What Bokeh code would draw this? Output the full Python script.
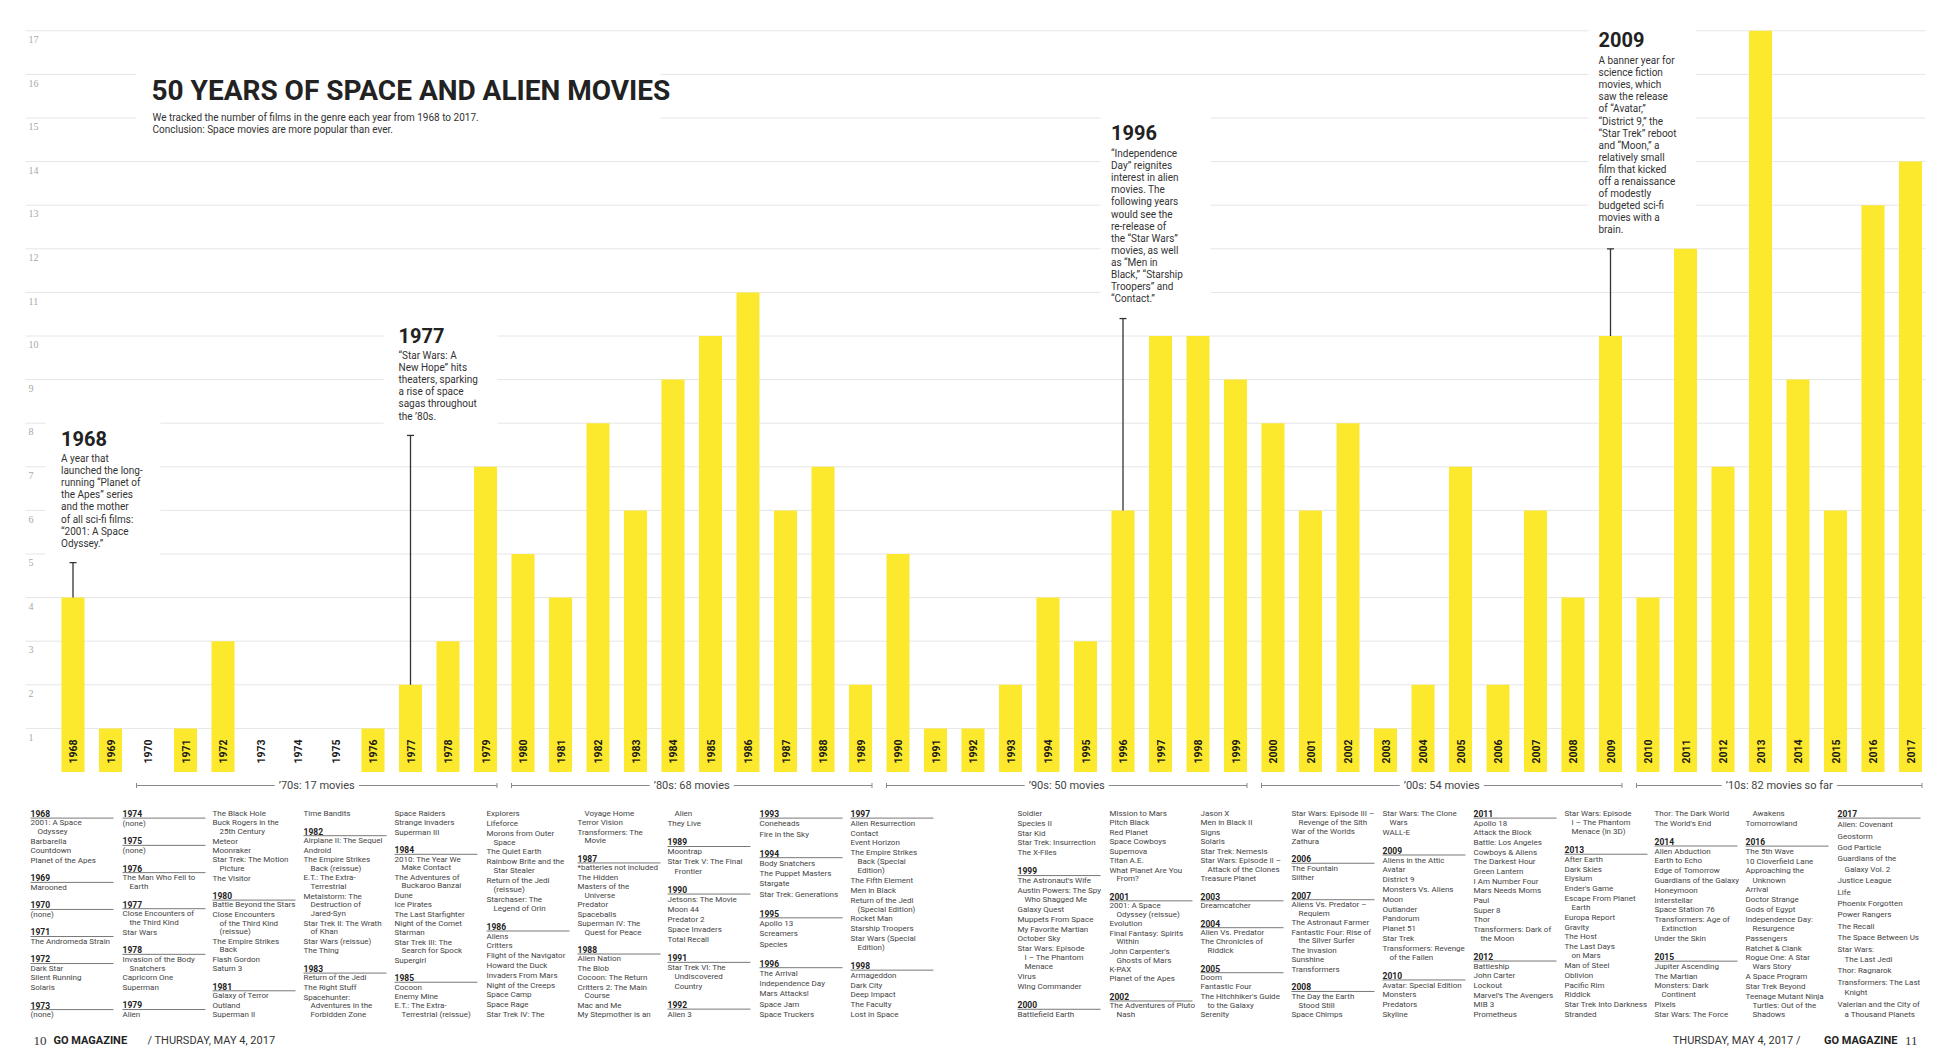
import math
from bokeh.plotting import figure
from bokeh.models import Range1d, Label
from bokeh.core.properties import value
from bokeh.embed import file_html
from bokeh.resources import INLINE

# ---------------- data ----------------
YEARS = list(range(1968, 2018))
COUNTS = [4, 1, 0, 1, 3, 0, 0, 0, 1, 2,
          3, 7, 5, 4, 8, 6, 9, 10, 11, 6,
          7, 2, 5, 1, 1, 2, 4, 3, 6, 10,
          10, 9, 8, 6, 8, 1, 2, 7, 2, 6,
          4, 10, 4, 12, 7, 17, 9, 6, 13, 14]
TICKS = list(range(1, 18))

DECADE_LABELS = ["\u201970s: 17 movies", "\u201980s: 68 movies", "\u201990s: 50 movies",
                 "\u201900s: 54 movies", "\u201910s: 82 movies so far"]
DECADE_START = [1970, 1980, 1990, 2000, 2010]
DECADE_END = [1979, 1989, 1999, 2009, 2017]

TITLE = "50 YEARS OF SPACE AND ALIEN MOVIES"
SUBTITLE = ["We tracked the number of films in the genre each year from 1968 to 2017.",
            "Conclusion: Space movies are more popular than ever."]

NOTE_YEARS = [1968, 1977, 1996, 2009]
NOTE_CAP = [4.8, 7.72, 10.4, 12.0]
NOTE_TEXT = [
    ["A year that", "launched the long-", "running \u201cPlanet of", "the Apes\u201d series",
     "and the mother", "of all sci-fi films:", "\u201c2001: A Space", "Odyssey.\u201d"],
    ["\u201cStar Wars: A", "New Hope\u201d hits", "theaters, sparking", "a rise of space",
     "sagas throughout", "the \u201980s."],
    ["\u201cIndependence", "Day\u201d reignites", "interest in alien", "movies. The",
     "following years", "would see the", "re-release of", "the \u201cStar Wars\u201d",
     "movies, as well", "as \u201cMen in", "Black,\u201d \u201cStarship", "Troopers\u201d and",
     "\u201cContact.\u201d"],
    ["A banner year for", "science fiction", "movies, which", "saw the release",
     "of \u201cAvatar,\u201d", "\u201cDistrict 9,\u201d the", "\u201cStar Trek\u201d reboot",
     "and \u201cMoon,\u201d a", "relatively small", "film that kicked", "off a renaissance",
     "of modestly", "budgeted sci-fi", "movies with a", "brain."],
]

FILMS = {
    1968: ["2001: A Space\nOdyssey", "Barbarella", "Countdown", "Planet of the Apes"],
    1969: ["Marooned"],
    1970: ["(none)"],
    1971: ["The Andromeda Strain"],
    1972: ["Dark Star", "Silent Running", "Solaris"],
    1973: ["(none)"],
    1974: ["(none)"],
    1975: ["(none)"],
    1976: ["The Man Who Fell to\nEarth"],
    1977: ["Close Encounters of\nthe Third Kind", "Star Wars"],
    1978: ["Invasion of the Body\nSnatchers", "Capricorn One", "Superman"],
    1979: ["Alien", "The Black Hole", "Buck Rogers in the\n25th Century", "Meteor", "Moonraker",
           "Star Trek: The Motion\nPicture", "The Visitor"],
    1980: ["Battle Beyond the Stars", "Close Encounters\nof the Third Kind\n(reissue)",
           "The Empire Strikes\nBack", "Flash Gordon", "Saturn 3"],
    1981: ["Galaxy of Terror", "Outland", "Superman II", "Time Bandits"],
    1982: ["Airplane II: The Sequel", "Android", "The Empire Strikes\nBack (reissue)",
           "E.T.: The Extra-\nTerrestrial", "Metalstorm: The\nDestruction of\nJared-Syn",
           "Star Trek II: The Wrath\nof Khan", "Star Wars (reissue)", "The Thing"],
    1983: ["Return of the Jedi", "The Right Stuff", "Spacehunter:\nAdventures in the\nForbidden Zone",
           "Space Raiders", "Strange Invaders", "Superman III"],
    1984: ["2010: The Year We\nMake Contact", "The Adventures of\nBuckaroo Banzai", "Dune",
           "Ice Pirates", "The Last Starfighter", "Night of the Comet", "Starman",
           "Star Trek III: The\nSearch for Spock", "Supergirl"],
    1985: ["Cocoon", "Enemy Mine", "E.T.: The Extra-\nTerrestrial (reissue)", "Explorers",
           "Lifeforce", "Morons from Outer\nSpace", "The Quiet Earth",
           "Rainbow Brite and the\nStar Stealer", "Return of the Jedi\n(reissue)",
           "Starchaser: The\nLegend of Orin"],
    1986: ["Aliens", "Critters", "Flight of the Navigator", "Howard the Duck",
           "Invaders From Mars", "Night of the Creeps", "Space Camp", "Space Rage",
           "Star Trek IV: The\nVoyage Home", "Terror Vision", "Transformers: The\nMovie"],
    1987: ["*batteries not included", "The Hidden", "Masters of the\nUniverse", "Predator",
           "Spaceballs", "Superman IV: The\nQuest for Peace"],
    1988: ["Alien Nation", "The Blob", "Cocoon: The Return", "Critters 2: The Main\nCourse",
           "Mac and Me", "My Stepmother is an\nAlien", "They Live"],
    1989: ["Moontrap", "Star Trek V: The Final\nFrontier"],
    1990: ["Jetsons: The Movie", "Moon 44", "Predator 2", "Space Invaders", "Total Recall"],
    1991: ["Star Trek VI: The\nUndiscovered\nCountry"],
    1992: ["Alien 3"],
    1993: ["Coneheads", "Fire in the Sky"],
    1994: ["Body Snatchers", "The Puppet Masters", "Stargate", "Star Trek: Generations"],
    1995: ["Apollo 13", "Screamers", "Species"],
    1996: ["The Arrival", "Independence Day", "Mars Attacks!", "Space Jam", "Space Truckers"],
    1997: ["Alien Resurrection", "Contact", "Event Horizon",
           "The Empire Strikes\nBack (Special\nEdition)", "The Fifth Element", "Men in Black",
           "Return of the Jedi\n(Special Edition)", "Rocket Man", "Starship Troopers",
           "Star Wars (Special\nEdition)"],
    1998: ["Armageddon", "Dark City", "Deep Impact", "The Faculty", "Lost in Space", "Soldier",
           "Species II", "Star Kid", "Star Trek: Insurrection", "The X-Files"],
    1999: ["The Astronaut's Wife", "Austin Powers: The Spy\nWho Shagged Me", "Galaxy Quest",
           "Muppets From Space", "My Favorite Martian", "October Sky",
           "Star Wars: Episode\nI \u2013 The Phantom\nMenace", "Virus", "Wing Commander"],
    2000: ["Battlefield Earth", "Mission to Mars", "Pitch Black", "Red Planet", "Space Cowboys",
           "Supernova", "Titan A.E.", "What Planet Are You\nFrom?"],
    2001: ["2001: A Space\nOdyssey (reissue)", "Evolution", "Final Fantasy: Spirits\nWithin",
           "John Carpenter's\nGhosts of Mars", "K-PAX", "Planet of the Apes"],
    2002: ["The Adventures of Pluto\nNash", "Jason X", "Men in Black II", "Signs", "Solaris",
           "Star Trek: Nemesis", "Star Wars: Episode II \u2013\nAttack of the Clones",
           "Treasure Planet"],
    2003: ["Dreamcatcher"],
    2004: ["Alien Vs. Predator", "The Chronicles of\nRiddick"],
    2005: ["Doom", "Fantastic Four", "The Hitchhiker's Guide\nto the Galaxy", "Serenity",
           "Star Wars: Episode III \u2013\nRevenge of the Sith", "War of the Worlds", "Zathura"],
    2006: ["The Fountain", "Slither"],
    2007: ["Aliens Vs. Predator \u2013\nRequiem", "The Astronaut Farmer",
           "Fantastic Four: Rise of\nthe Silver Surfer", "The Invasion", "Sunshine",
           "Transformers"],
    2008: ["The Day the Earth\nStood Still", "Space Chimps", "Star Wars: The Clone\nWars",
           "WALL-E"],
    2009: ["Aliens in the Attic", "Avatar", "District 9", "Monsters Vs. Aliens", "Moon",
           "Outlander", "Pandorum", "Planet 51", "Star Trek",
           "Transformers: Revenge\nof the Fallen"],
    2010: ["Avatar: Special Edition", "Monsters", "Predators", "Skyline"],
    2011: ["Apollo 18", "Attack the Block", "Battle: Los Angeles", "Cowboys & Aliens",
           "The Darkest Hour", "Green Lantern", "I Am Number Four", "Mars Needs Moms", "Paul",
           "Super 8", "Thor", "Transformers: Dark of\nthe Moon"],
    2012: ["Battleship", "John Carter", "Lockout", "Marvel's The Avengers", "MIB 3",
           "Prometheus", "Star Wars: Episode\nI \u2013 The Phantom\nMenace (in 3D)"],
    2013: ["After Earth", "Dark Skies", "Elysium", "Ender's Game", "Escape From Planet\nEarth",
           "Europa Report", "Gravity", "The Host", "The Last Days\non Mars", "Man of Steel",
           "Oblivion", "Pacific Rim", "Riddick", "Star Trek Into Darkness", "Stranded",
           "Thor: The Dark World", "The World's End"],
    2014: ["Alien Abduction", "Earth to Echo", "Edge of Tomorrow", "Guardians of the Galaxy",
           "Honeymoon", "Interstellar", "Space Station 76", "Transformers: Age of\nExtinction",
           "Under the Skin"],
    2015: ["Jupiter Ascending", "The Martian", "Monsters: Dark\nContinent", "Pixels",
           "Star Wars: The Force\nAwakens", "Tomorrowland"],
    2016: ["The 5th Wave", "10 Cloverfield Lane", "Approaching the\nUnknown", "Arrival",
           "Doctor Strange", "Gods of Egypt", "Independence Day:\nResurgence", "Passengers",
           "Ratchet & Clank", "Rogue One: A Star\nWars Story", "A Space Program",
           "Star Trek Beyond", "Teenage Mutant Ninja\nTurtles: Out of the\nShadows"],
    2017: ["Alien: Covenant", "Geostorm", "God Particle", "Guardians of the\nGalaxy Vol. 2",
           "Justice League", "Life", "Phoenix Forgotten", "Power Rangers", "The Recall",
           "The Space Between Us", "Star Wars:\nThe Last Jedi", "Thor: Ragnarok",
           "Transformers: The Last\nKnight", "Valerian and the City of\na Thousand Planets"],
}

# ---------------- layout ----------------
W, H = 1950, 1063
SX = 37.5          # px per year
PX0 = 72.5         # px of first bar centre
ZERO = 771.5       # px of value 0
SY = 43.6          # px per unit
X0 = YEARS[0] - PX0 / SX


def xpx(px):
    return X0 + px / SX


def ypx(py):
    return (ZERO - py) / SY


FONT = value("Roboto")
YELLOW = "#FCE82C"
GREY = "#444444"

p = figure(width=W, height=H, x_range=Range1d(xpx(0), xpx(W)), y_range=Range1d(ypx(H), ypx(0)),
           output_backend="svg", toolbar_location=None, x_axis_type=None, y_axis_type=None,
           min_border=0, title=None)
p.outline_line_color = None
p.background_fill_color = "white"
p.border_fill_color = "white"

# gridlines
p.segment(x0=[xpx(25)] * len(TICKS), x1=[xpx(1925)] * len(TICKS), y0=TICKS, y1=TICKS,
          line_color="#e6e6e6", line_width=1)
p.text(x=[xpx(28)] * len(TICKS), y=[t - 0.2 for t in TICKS], text=[str(t) for t in TICKS],
       text_font=value("Liberation Serif"), text_font_size="10px", text_color="#a8a8a8",
       text_baseline="middle", text_align="left")

# white boxes behind text blocks
boxes = [(136, 660, 52, 142), (45, 160, 420, 556), (383, 497, 315, 425),
         (1100, 1210, 115, 307), (1588, 1695, 20, 236)]
p.quad(left=[xpx(b[0]) for b in boxes], right=[xpx(b[1]) for b in boxes],
       top=[ypx(b[2]) for b in boxes], bottom=[ypx(b[3]) for b in boxes],
       fill_color="white", line_color=None)

# bars
BAR_W = 23 / SX
p.vbar(x=YEARS, top=COUNTS, bottom=0, width=BAR_W, fill_color=YELLOW, line_color=None)
p.text(x=YEARS, y=[ypx(751)] * len(YEARS), text=[str(y) for y in YEARS], angle=math.pi / 2,
       text_align="center", text_baseline="middle", text_font=FONT, text_font_style="bold",
       text_font_size="10.5px", text_color="#1a1a1a")

# pointers
cnt = dict(zip(YEARS, COUNTS))
p.segment(x0=NOTE_YEARS, x1=NOTE_YEARS, y0=[cnt[y] for y in NOTE_YEARS], y1=NOTE_CAP,
          line_color="#333333", line_width=1.3)
cap = 3.5 / SX
p.segment(x0=[y - cap for y in NOTE_YEARS], x1=[y + cap for y in NOTE_YEARS], y0=NOTE_CAP,
          y1=NOTE_CAP, line_color="#333333", line_width=1.3)

# title
p.text(x=[xpx(151)], y=[ypx(90)], text=[TITLE], text_font=FONT, text_font_style="bold",
       text_font_size="28px", text_color="#222222", text_baseline="middle")
p.text(x=[xpx(152)] * 2, y=[ypx(117), ypx(128.5)], text=SUBTITLE, text_font=FONT,
       text_font_size="10px", text_color="#333333", text_baseline="middle")

# annotations
HEAD_MID = [438, 335, 132, 39]
FIRST_LINE = [458, 355, 153, 60]
for yr, hm, fl, lines in zip(NOTE_YEARS, HEAD_MID, FIRST_LINE, NOTE_TEXT):
    left = yr - 12 / SX
    p.text(x=[left], y=[ypx(hm)], text=[str(yr)], text_font=FONT, text_font_style="bold",
           text_font_size="20px", text_color="#222222", text_baseline="middle")
    p.text(x=[left] * len(lines), y=[ypx(fl + 12.1 * i) for i in range(len(lines))], text=lines,
           text_font=FONT, text_font_size="10px", text_color="#333333", text_baseline="middle")

# decade rules
YD = ypx(785)
tk = 2.5 / SY
for lab, s, e in zip(DECADE_LABELS, DECADE_START, DECADE_END):
    a, b = s - BAR_W / 2, e + BAR_W / 2
    p.segment(x0=[a, a, b], x1=[b, a, b], y0=[YD, YD - tk, YD - tk], y1=[YD, YD + tk, YD + tk],
              line_color="#8a8a8a", line_width=1)
    p.add_layout(Label(x=(a + b) / 2, y=YD, text=lab, text_align="center",
                       text_baseline="middle", text_font="Roboto", text_font_size="11px",
                       text_color="#444444", background_fill_color="white", padding=4))

# film lists
COL_X = [30, 122, 212, 303, 394, 486, 577, 667, 759, 850,
         1017, 1109, 1200, 1291, 1382, 1473, 1564, 1654, 1745, 1837]
COL_LINES = [18, 18, 21, 21, 21, 21, 21, 18, 18, 21,
             20, 21, 20, 20, 20, 21, 21, 20, 21, 19]
TOP, BOTTOM = 813, 1014

entries = []
for yr in YEARS:
    entries.append(("h", str(yr)))
    for t in FILMS[yr]:
        parts = t.split("\n")
        entries.append(("i", parts[0]))
        for q in parts[1:]:
            entries.append(("c", q))

hx, hy, ht, ix, iy, itx, ux0, ux1, uy = [], [], [], [], [], [], [], [], []
pos = 0
for cx, n in zip(COL_X, COL_LINES):
    col = entries[pos:pos + n]
    pos += n
    steps = [0.0]
    for kind, _ in col[1:]:
        steps.append({"h": 1.85, "i": 1.0, "c": 0.92}[kind])
    total = sum(steps)
    scale = (BOTTOM - TOP) / total if total else 0
    acc = 0.0
    for (kind, txt), st in zip(col, steps):
        acc += st
        yp = TOP + acc * scale
        if kind == "h":
            hx.append(xpx(cx)); hy.append(ypx(yp)); ht.append(txt)
            ux0.append(xpx(cx)); ux1.append(xpx(cx + 83)); uy.append(ypx(yp + 4.6))
        else:
            ix.append(xpx(cx + (7 if kind == "c" else 0))); iy.append(ypx(yp)); itx.append(txt)

p.text(x=hx, y=hy, text=ht, text_font=FONT, text_font_style="bold", text_font_size="8.5px",
       text_color="#222222", text_baseline="middle")
p.segment(x0=ux0, x1=ux1, y0=uy, y1=uy, line_color="#555555", line_width=0.8)
p.text(x=ix, y=iy, text=itx, text_font=FONT, text_font_size="8px", text_color=GREY,
       text_baseline="middle")

# footer
FY = ypx(1040)
p.text(x=[xpx(33)], y=[FY], text=["10"], text_font=value("Liberation Serif"),
       text_font_size="13px", text_color="#333333", text_baseline="middle")
p.text(x=[xpx(53)], y=[FY], text=["GO MAGAZINE"], text_font=FONT, text_font_style="bold",
       text_font_size="11px", text_color="#222222", text_baseline="middle")
p.text(x=[xpx(147)], y=[FY], text=["/ THURSDAY, MAY 4, 2017"], text_font=FONT,
       text_font_size="11px", text_color="#333333", text_baseline="middle")
p.text(x=[xpx(1800)], y=[FY], text=["THURSDAY, MAY 4, 2017 /"], text_font=FONT,
       text_font_size="11px", text_color="#333333", text_baseline="middle", text_align="right")
p.text(x=[xpx(1897)], y=[FY], text=["GO MAGAZINE"], text_font=FONT, text_font_style="bold",
       text_font_size="11px", text_color="#222222", text_baseline="middle", text_align="right")
p.text(x=[xpx(1917)], y=[FY], text=["11"], text_font=value("Liberation Serif"),
       text_font_size="13px", text_color="#333333", text_baseline="middle", text_align="right")

open("out.html", "w").write(file_html(p, INLINE))
